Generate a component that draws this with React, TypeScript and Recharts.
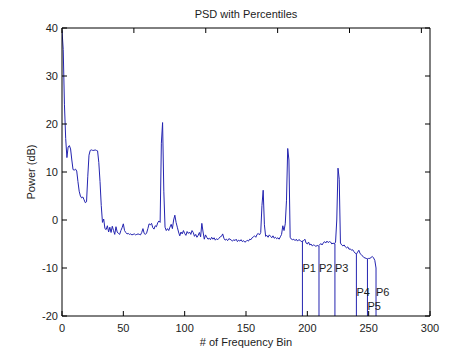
import { ComposedChart, Line, Scatter, XAxis, YAxis, ReferenceLine } from 'recharts'

// PSD power per frequency bin (index = bin number)
const power = [
  39.5, 35.5, 24, 17, 13, 15.2, 15.5, 14.8, 12.5, 10.5,
  10.4, 10.6, 10.2, 8, 6, 5, 4.6, 4.8, 4.2, 3.6,
  3.8, 9, 13.5, 14.5, 14.6, 14.5, 14.5, 14.6, 14.5, 14.4,
  12, 8, 3, -0.5, 0.2, -1.8, -2, -1.2, -2.5, -1.5,
  -2.6, -1.3, -2.2, -3, -1.4, -2.5, -2.8, -3, -2.2, -1.6,
  -0.8, -2.2, -2.6, -2.9, -2.8, -3, -2.9, -3.1, -3, -2.9,
  -3.1, -3, -2.9, -3, -3.1, -2.6, -1.8, -2.8, -3, -2.7,
  -1.8, -0.8, -1, -0.7, -1.6, -1.9, -1.2, -1.4, -0.6, -0.2,
  -0.5, 16, 20.3, 6, -1.5, -2.2, -1.8, -2.2, -1.5, -0.9,
  -1.8, 0, 1, -0.5, -1.5, -2.5, -3.3, -2.5, -2.9, -2.2,
  -2.8, -3.2, -2.4, -2.8, -2.5, -3, -2.2, -2.6, -3.4, -3,
  -3.6, -3.2, -2.6, -3.5, -0.7, -2.5, -4, -3.1, -3.6, -4,
  -3.8, -4.1, -3.6, -4, -3.7, -4.2, -3.9, -4.1, -3.8, -3.5,
  -3.4, -2.9, -3.8, -4.2, -4, -4.3, -3.9, -4, -4.2, -4.4,
  -4.1, -4.3, -4, -4.5, -4.2, -4.4, -4.1, -4.5, -4.3, -4.6,
  -4.5, -4.2, -4.4, -4, -4.1, -3.7, -3.5, -3.3, -3.6, -3,
  -2.8, -3.1, -2.6, 3, 6.2, -1, -3.4, -3.2, -3.6, -3.1,
  -3.4, -3.7, -3.3, -3.8, -3.6, -3.9, -3.7, -4, -3.5, -3,
  -1.2, -2.2, -0.8, 4, 14.9, 12.5, -3.6, -4, -4.1, -4,
  -4.3, -4, -4.4, -4.1, -4.2, -4.5, -4.4, -4.3, -4, -4.8,
  -5, -4.6, -5.2, -5, -5.4, -5.2, -5.3, -5.5, -5.3, -5.4,
  -5.2, -4.9, -5.2, -4.8, -4.5, -4.8, -4.4, -4.7, -4.5, -4.6,
  -5, -4.8, -5, -4.6, 0, 10.8, 8.5, -4.8, -5.2, -5.4,
  -5.2, -5.6, -5.8, -5.6, -6.1, -6, -6.3, -6.2, -6.6, -6.9,
  -7.1, -6.7, -6.3, -7, -7.2, -7.5, -7.8, -7.9, -8, -8.1,
  -8, -8, -7.8, -7.6, -7.9, -8.4, -10,
]

const xTicks = [0, 50, 100, 150, 200, 250, 300]
const yTicks = [-20, -10, 0, 10, 20, 30, 40]

const pctNames = ['P1', 'P2', 'P3', 'P4', 'P5', 'P6']
const pctBins = [196, 209.5, 222.5, 240, 249, 256]
const pctPower = [-4.4, -5.4, -5, -7.1, -8.1, -10]
const pctLabelY = [-10, -10, -10, -15, -18, -15]

const psd = power.map((y, x) => ({ x, y }))
const pctLabels = pctNames.map((name, i) => ({ name, x: pctBins[i], y: pctLabelY[i] }))

const FONT = '"Liberation Sans", Arial, Helvetica, sans-serif'
const INK = '#1c1c1c'
const BLUE = '#2424b0'
const tickStyle = { fill: INK, fontSize: 11, fontFamily: FONT }
const blank = () => ''

const PctText = (p: any) => (
  <text x={p.cx} y={p.cy} dy="0.35em" fontSize={11} fontFamily={FONT} fill={INK}>
    {p.payload.name}
  </text>
)

export default function App() {
  return (
    <div style={{ position: 'absolute', left: 0, top: 0, width: 474, height: 355, background: '#fff' }}>
      <ComposedChart width={474} height={355} data={psd} margin={{ top: 27, right: 43, bottom: 9, left: 22 }}>
        <XAxis
          dataKey="x" type="number" domain={[0, 300]} ticks={xTicks} allowDataOverflow
          height={30} tickSize={-5} tickMargin={13} tick={tickStyle} stroke="#000"
          label={{ value: '# of Frequency Bin', position: 'insideBottom', offset: 0, fill: INK, fontSize: 11, fontFamily: FONT }}
        />
        <XAxis
          xAxisId="top" orientation="top" type="number" domain={[0, 300]} ticks={xTicks} allowDataOverflow
          height={1} tickSize={-5} tickFormatter={blank} stroke="#000"
          label={{ value: 'PSD with Percentiles', position: 'top', offset: 9, fill: INK, fontSize: 11, fontFamily: FONT }}
        />
        <YAxis
          type="number" domain={[-20, 40]} ticks={yTicks} allowDataOverflow
          width={40} tickSize={-5} tickMargin={9} tick={tickStyle} stroke="#000"
          label={{ value: 'Power (dB)', angle: -90, position: 'insideLeft', offset: 9, fill: INK, fontSize: 11, fontFamily: FONT, style: { textAnchor: 'middle' } }}
        />
        <YAxis
          yAxisId="right" orientation="right" type="number" domain={[-20, 40]} ticks={yTicks} allowDataOverflow
          width={1} tickSize={-5} tickFormatter={blank} stroke="#000"
        />
        {pctBins.map((b, i) => (
          <ReferenceLine
            key={pctNames[i]}
            segment={[{ x: b, y: -20 }, { x: b, y: pctPower[i] }]}
            stroke={BLUE} strokeWidth={1}
          />
        ))}
        <Line type="linear" dataKey="y" stroke={BLUE} strokeWidth={1} dot={false} isAnimationActive={false} />
        <Scatter data={pctLabels} dataKey="y" shape={PctText} isAnimationActive={false} />
      </ComposedChart>
    </div>
  )
}
